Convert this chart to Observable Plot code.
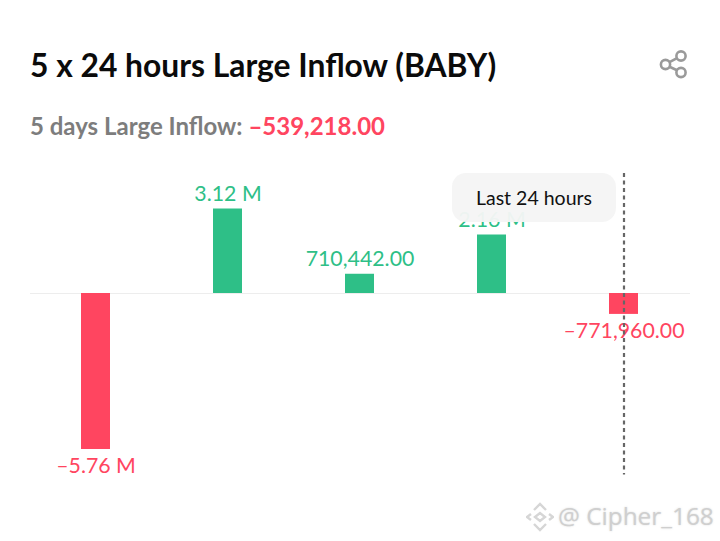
<!DOCTYPE html>
<html><head><meta charset="utf-8">
<script src="https://cdn.jsdelivr.net/npm/d3@7"></script>
<script src="https://cdn.jsdelivr.net/npm/@observablehq/plot@0.6"></script>
<style>
html,body{margin:0;padding:0;background:#fff;}
#page{position:relative;width:720px;height:541px;overflow:hidden;font-family:Lato,sans-serif;}
#head{height:160px;position:relative;}
#title{position:absolute;left:30px;top:46px;font-size:31.8px;font-weight:700;color:#0b0b0b;line-height:38px;white-space:nowrap;}
#sub{position:absolute;left:30px;top:111px;font-size:24px;font-weight:700;color:#7d7d7d;line-height:30px;white-space:nowrap;}
#sub span{color:#ff4560;}
#share{position:absolute;left:659px;top:50px;}
#chart svg{display:block;}
#tip{position:absolute;left:452px;top:173px;width:164px;height:49px;border-radius:14px;background:rgba(245,245,245,.96);color:#111;font-size:19.5px;line-height:50px;text-align:center;}
#mark{position:absolute;left:558px;top:501px;font-family:"Open Sans",sans-serif;font-size:24.4px;line-height:30px;color:#cfcfcf;white-space:nowrap;text-shadow:0 0 2px rgba(150,150,150,.35);}
#logo{position:absolute;left:526px;top:502px;}
</style></head><body>
<div id="page">
 <div id="head">
  <div id="title">5 x 24 hours Large Inflow (BABY)</div>
  <div id="sub">5 days Large Inflow: <span>–539,218.00</span></div>
  <svg id="share" width="30" height="30" viewBox="0 0 30 30" fill="none" stroke="#9a9a9a" stroke-width="2.6">
   <circle cx="6.5" cy="14.5" r="4.6"/><circle cx="22" cy="6" r="4.6"/><circle cx="22" cy="22.5" r="4.6"/>
   <path d="M10.5 12.2L18 8.2M10.5 16.8L18 20.2"/>
  </svg>
 </div>
 <div id="chart"></div>
 <div id="tip">Last 24 hours</div>
 <svg id="logo" width="28" height="30" viewBox="0 0 28 30" fill="none" stroke="#d6d6d6" stroke-width="2.4">
  <path d="M8 8L14 2L20 8M5 12L1 15L5 18M23 12L27 15L23 18M8 22L14 28L20 22M9 15L14 11L19 15L14 19Z"/>
 </svg>
 <div id="mark">@ Cipher_168</div>
</div>
<script>
const days = ["D1", "D2", "D3", "D4", "D5"];
const inflowMillions = [-5.76, 3.12, 0.710442, 2.16, -0.77196];
const valueLabels = ["–5.76 M", "3.12 M", "710,442.00", "2.16 M", "–771,960.00"];
const markerDay = ["D5"];
const green = "#2ebf87", red = "#ff4560";
const rows = days.map((d, i) => ({day: d, value: inflowMillions[i], label: valueLabels[i]}));
const up = rows.filter(r => r.value >= 0), down = rows.filter(r => r.value < 0);

const chart = Plot.plot({
  width: 720, height: 330,
  marginLeft: 30, marginRight: 30, marginTop: 0, marginBottom: 0,
  x: {type: "band", domain: days, paddingInner: 0.78, paddingOuter: 0.39, axis: null},
  y: {type: "linear", domain: [-5.76, 3.12], range: [289, 48.5], axis: null},
  marks: [
    Plot.ruleY([0], {stroke: "#ededed", strokeWidth: 1}),
    Plot.barY(rows, {x: "day", y: "value", fill: d => d.value >= 0 ? green : red}),
    Plot.text(up, {x: "day", y: "value", text: "label", dy: -15, fill: green, fontSize: 21.3, fontFamily: "Lato, sans-serif"}),
    Plot.text(down, {x: "day", y: "value", text: "label", dy: 17, fill: red, fontSize: 21.3, fontFamily: "Lato, sans-serif"}),
    Plot.ruleX(markerDay, {x: d => d, y1: 4.43, y2: -6.7, stroke: "#666", strokeWidth: 2.2, strokeDasharray: "4 3.5"})
  ]
});
document.getElementById("chart").append(chart);
</script>
</body></html>
